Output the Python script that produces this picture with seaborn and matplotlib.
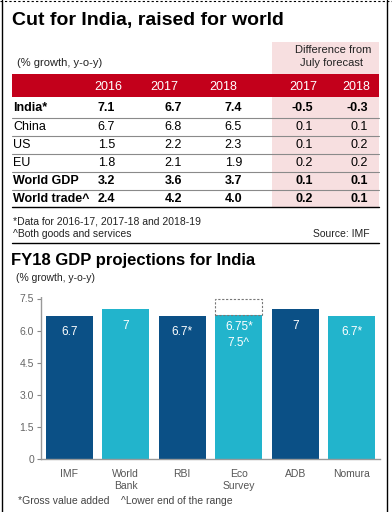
import matplotlib
matplotlib.use("Agg")
import matplotlib.pyplot as plt
from matplotlib.lines import Line2D
from matplotlib.patches import Rectangle
import seaborn as sns
import pandas as pd

# ---------------- data ----------------
table_title = "Cut for India, raised for world"
table_unit = "(% growth, y-o-y)"
diff_header = ["Difference from", "July forecast"]
col_headers = ["2016", "2017", "2018", "2017", "2018"]
table_rows = ["India*", "China", "US", "EU", "World GDP", "World trade^"]
row_bold = [True, False, False, False, True, True]
y2016 = [7.1, 6.7, 1.5, 1.8, 3.2, 2.4]
y2017 = [6.7, 6.8, 2.2, 2.1, 3.6, 4.2]
y2018 = [7.4, 6.5, 2.3, 1.9, 3.7, 4.0]
diff2017 = [-0.5, 0.1, 0.1, 0.2, 0.1, 0.2]
diff2018 = [-0.3, 0.1, 0.2, 0.2, 0.1, 0.1]
table_notes = ["*Data for 2016-17, 2017-18 and 2018-19", "^Both goods and services"]
table_source = "Source: IMF"

chart_title = "FY18 GDP projections for India"
chart_unit = "(% growth, y-o-y)"
sources = ["IMF", "World\nBank", "RBI", "Eco\nSurvey", "ADB", "Nomura"]
projections = [6.7, 7.0, 6.7, 6.75, 7.0, 6.7]
proj_labels = ["6.7", "7", "6.7*", "6.75*\n7.5^", "7", "6.7*"]
range_high = [None, None, None, 7.5, None, None]
y_ticks = [0, 1.5, 3.0, 4.5, 6.0, 7.5]
y_ticklabels = ["0", "1.5", "3.0", "4.5", "6.0", "7.5"]
chart_note = "*Gross value added    ^Lower end of the range"

# ---------------- style ----------------
sns.set_theme(style="white")
plt.rcParams['font.family'] = ['Liberation Sans', 'DejaVu Sans']

DARK = "#0b5086"
CYAN = "#22b4cc"
RED = "#c3001b"
PINK = "#f7dfe0"

W, H = 392, 512
fig = plt.figure(figsize=(W / 100, H / 100), dpi=100)
fig.patch.set_facecolor("white")


def fx(x):
    return x / W


def fy(y):
    return 1 - y / H


def txt(x, y, s, **kw):
    kw.setdefault("va", "center")
    fig.text(fx(x), fy(y), s, **kw)


def hline(x0, x1, y, **kw):
    fig.add_artist(Line2D([fx(x0), fx(x1)], [fy(y), fy(y)], **kw))


def vline(x, y0, y1, **kw):
    fig.add_artist(Line2D([fx(x), fx(x)], [fy(y0), fy(y1)], **kw))


def rect(x0, y0, x1, y1, **kw):
    fig.add_artist(Rectangle((fx(x0), fy(y1)), fx(x1) - fx(x0), fy(y0) - fy(y1),
                             lw=0, **kw))


# frame
vline(2, 0, 512, color="black", lw=1)
vline(387, 0, 512, color="black", lw=1)
hline(0, 392, 1, color="black", lw=0.8, ls=(0, (2, 2)))

# ---------------- table ----------------
txt(12, 21, table_title, fontsize=14, fontweight="bold", color="black")
rect(272, 42, 379, 207, color=PINK)
txt(17, 63, table_unit, fontsize=8, color="#222")
txt(333, 50, diff_header[0], fontsize=8, ha="center", color="#222")
txt(331, 63, diff_header[1], fontsize=8, ha="center", color="#222")

rect(12, 74, 379, 97, color=RED)
head_x = [122, 178, 237, 317, 370]
for hx, h in zip(head_x, col_headers):
    txt(hx, 87, h, fontsize=9, color="white", ha="right")

row_y = [108, 127, 145, 163, 181, 199]
num_x = [115, 182, 242, 313, 368]
for i, name in enumerate(table_rows):
    w = "bold" if row_bold[i] else "normal"
    txt(13, row_y[i], name, fontsize=9, fontweight=w, color="black")
    vals = [y2016[i], y2017[i], y2018[i], diff2017[i], diff2018[i]]
    for nx, v in zip(num_x, vals):
        txt(nx, row_y[i], f"{v:.1f}", fontsize=9, fontweight=w, color="black", ha="right")
for sy in [118, 136, 154, 172, 190]:
    hline(12, 379, sy, color="#8a8a8a", lw=0.8)
hline(12, 379, 207, color="black", lw=1)

txt(13, 222, table_notes[0], fontsize=7.5, color="#222")
txt(13, 234, table_notes[1], fontsize=7.5, color="#222")
txt(370, 234, table_source, fontsize=7.5, color="#222", ha="right")
hline(12, 379, 243, color="black", lw=1)

# ---------------- bar chart ----------------
txt(11, 261, chart_title, fontsize=12, fontweight="bold", color="black")
txt(16, 278, chart_unit, fontsize=7.5, color="#222")

PXU = 21.4
top = 459 - 7.6 * PXU
ax = fig.add_axes([fx(41), fy(459), (380 - 41) / W, (459 - top) / H])
df = pd.DataFrame({"source": sources, "value": projections})
palette = [DARK if i % 2 == 0 else CYAN for i in range(len(sources))]
sns.barplot(data=df, x="source", y="value", hue="source", palette=palette,
            width=0.83, saturation=1, legend=False, ax=ax, edgecolor="none")

# dashed range extension for Eco Survey
for i, hi in enumerate(range_high):
    if hi is not None:
        ax.bar(i, hi - projections[i], bottom=projections[i], width=0.83,
               facecolor="none", edgecolor="#777", ls=(0, (2, 1.5)), lw=0.8)

for i, (v, lab) in enumerate(zip(projections, proj_labels)):
    off = 0.3 if "\n" in lab else 0.5
    ax.text(i, v - off, lab, ha="center", va="top", color="white",
            fontsize=8.5, linespacing=1.4)

ax.set_ylim(0, 7.6)
ax.set_xlim(-0.5, 5.5)
ax.set_yticks(y_ticks)
ax.set_yticklabels(y_ticklabels)
ax.set_xlabel("")
ax.set_ylabel("")
ax.tick_params(axis="y", length=3, width=0.8, color="#888", labelcolor="#666",
               labelsize=7.5, pad=2, left=True)
ax.tick_params(axis="x", length=0, labelcolor="#555", labelsize=7.5, pad=7)
for lbl in ax.get_xticklabels():
    lbl.set_linespacing(1.3)
for s in ["top", "right"]:
    ax.spines[s].set_visible(False)
ax.spines["left"].set_color("#999")
ax.spines["left"].set_linestyle((0, (1.5, 1)))
ax.spines["left"].set_linewidth(1)
ax.spines["bottom"].set_color("#999")
ax.spines["bottom"].set_linewidth(1)
ax.set_facecolor("white")
ax.grid(False)

txt(18, 501, chart_note, fontsize=7.5, color="#444")

fig.savefig("out.png", dpi=100, facecolor="white")
